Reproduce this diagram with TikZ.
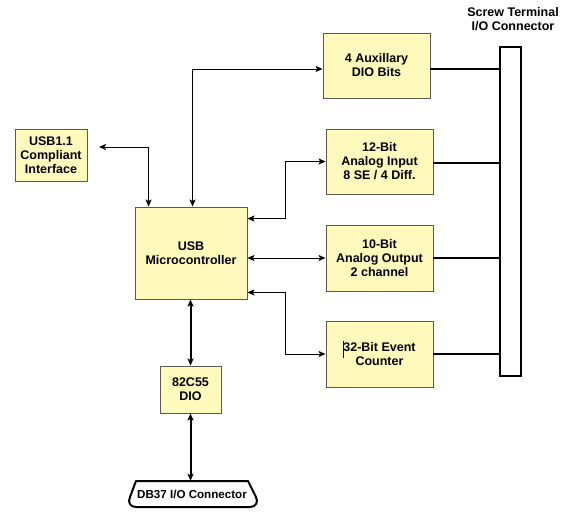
\documentclass[tikz,border=0pt]{standalone}
\usepackage{fontspec}
\setmainfont{Liberation Sans}
\usetikzlibrary{calc,arrows.meta}
\definecolor{boxfill}{RGB}{255,250,187}
\definecolor{boxline}{RGB}{90,90,80}
\begin{document}
\begin{tikzpicture}[x=1pt,y=-1pt,
  lbl/.style={font=\fontsize{12.5}{14}\bfseries\selectfont,align=center},
  blk/.style={lbl,draw=boxline,line width=0.9pt,fill=boxfill,inner sep=0pt},
  lnthin/.style={line width=0.9pt,black},
  lnthick/.style={line width=2pt,black},
  lnmid/.style={line width=1.4pt,black},
  dbl/.style={arrows={Stealth[length=7pt,width=6pt,inset=1.5pt]-Stealth[length=7pt,width=6pt,inset=1.5pt]}}
]
\useasboundingbox (0,0) rectangle (576,515);

% blocks
\node[blk,minimum width=107pt,minimum height=65pt] (aux) at (376.5,65.5) {4 Auxillary\\DIO Bits};
\node[blk,minimum width=72pt,minimum height=52pt] (usb11) at (51,155) {USB1.1\\Compliant\\Interface};
\node[blk,minimum width=107pt,minimum height=65pt] (ain) at (379.5,161.5) {12-Bit\\Analog Input\\8 SE / 4 Diff.};
\node[blk,minimum width=112pt,minimum height=92pt] (micro) at (191,253) {USB\\Microcontroller};
\node[blk,minimum width=107pt,minimum height=66pt] (aout) at (379.5,258) {10-Bit\\Analog Output\\2 channel};
\node[blk,minimum width=107pt,minimum height=66pt] (cnt) at (379.5,354) {32-Bit Event\\Counter};
\node[blk,minimum width=61pt,minimum height=47pt] (dio) at (190.5,389.5) {82C55\\DIO};

% screw terminal bar
\node[draw=black,line width=2pt,fill=white,minimum width=21pt,minimum height=329pt,inner sep=0pt] (bar) at (510.5,211.5) {};
\node[lbl] (screw) at (513,19) {Screw Terminal\\I/O Connector};

% DB37 connector
\node[font=\fontsize{11.6}{13}\bfseries\selectfont,minimum height=26pt,inner sep=0pt] (db) at (192,494) {DB37 I/O Connector};
\draw[line width=2pt,line join=round] (136,481) -- (248,481) -- (256,497)
  .. controls (258.5,502) and (256,507) .. (250,507) -- (136,507)
  .. controls (130,507) and (127.5,502) .. (130,497) -- cycle;

% cursor artifact
\draw[line width=0.5pt] (343,341) -- (343,358);

% connectors
\coordinate (usbend) at (99,147);
\draw[lnthin,dbl] (usbend) -| ($(micro.north west)+(14,0)$);
\draw[lnthin,dbl] ($(micro.north west)+(58,0)$) |- ($(aux.west)+(0,3.5)$);
\draw[lnthin,dbl] ($(micro.north east)+(0,12)$) -| ($(ain.west)+(-40,0)$) -- (ain.west);
\draw[lnthin,dbl] (micro.east |- aout.west) -- (aout.west);
\draw[lnthin,dbl] ($(micro.south east)+(0,-7)$) -| ($(cnt.west)+(-40,0)$) -- (cnt.west);
\draw[lnthick,dbl] (dio.north |- micro.south) -- (dio.north);
\draw[lnthick,dbl] (dio.south) -- (dio.south |- db.north);

% lines to the screw terminal
\path ($(aux.east)+(0,3.5)$) coordinate (auxr);
\path ($(ain.east)+(0,1.5)$) coordinate (ainr);
\draw[lnthick] (auxr) -- (auxr -| bar.west);
\draw[lnthick] (ainr) -- (ainr -| bar.west);
\draw[lnmid] (aout.east) -- (aout.east -| bar.west);
\draw[lnthick] (cnt.east) -- (cnt.east -| bar.west);
\end{tikzpicture}
\end{document}
